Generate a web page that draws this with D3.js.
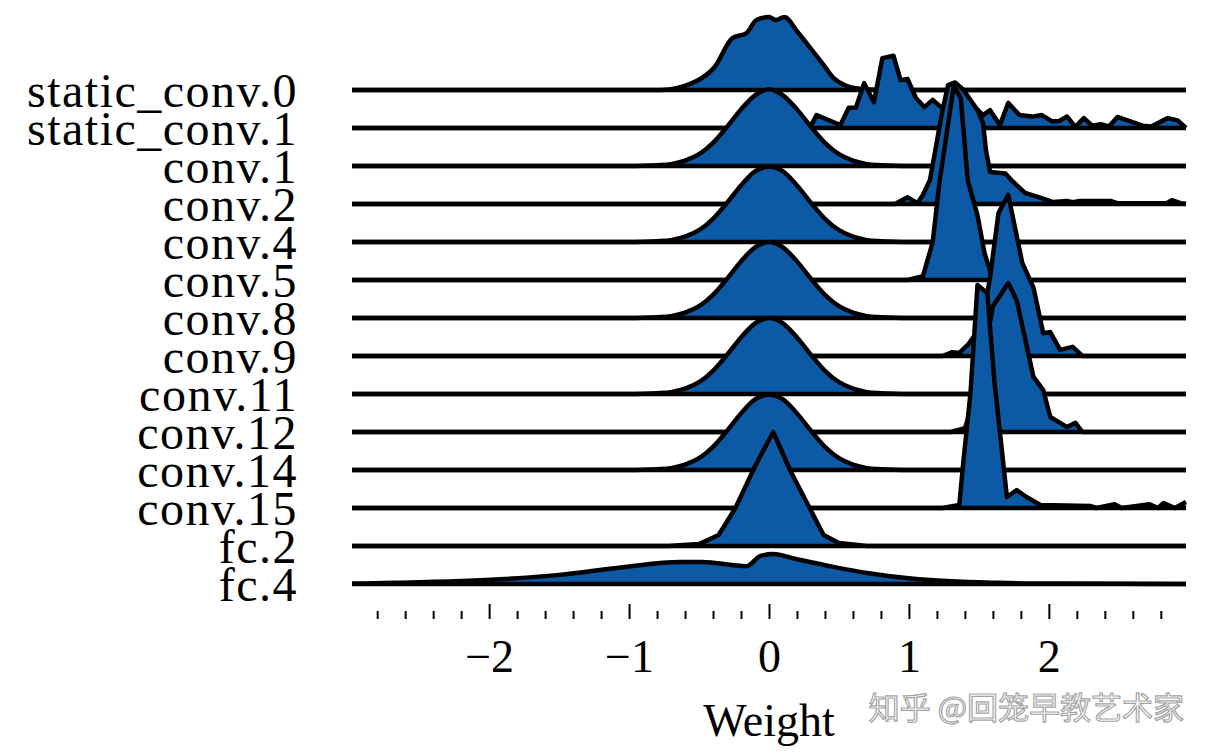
<!DOCTYPE html>
<html><head><meta charset="utf-8">
<script src="https://cdn.jsdelivr.net/npm/d3@7/dist/d3.min.js"></script>
<style>body{margin:0;background:#fff}</style></head>
<body><svg id="c" width="1212" height="754"></svg>
<script>
const categories = ["static_conv.0","static_conv.1","conv.1","conv.2","conv.4","conv.5","conv.8","conv.9","conv.11","conv.12","conv.14","conv.15","fc.2","fc.4"];

const staticConv0 = [[-2.98,0],[-0.77,0],[-0.55,.18],[-0.39,.6],[-0.26,1.37],[-0.16,1.5],[-0.09,1.84],[0,1.92],[0.05,1.84],[0.11,1.92],[0.2,1.55],[0.29,1.13],[0.38,.71],[0.46,.32],[0.54,.13],[0.65,.03],[0.8,0],[2.98,0]];
const staticConv1 = [[-2.98,0],[-0.3,0],[-0.2,.12],[-0.1,.35],[0,.5],[0.1,.35],[0.2,.12],[0.29,0],[0.34,.34],[0.51,.08],[0.57,.53],[0.62,.53],[0.68,1.18],[0.75,.68],[0.81,1.84],[0.89,1.9],[0.94,1.26],[0.99,1.29],[1.05,.79],[1.11,.55],[1.17,.74],[1.23,.55],[1.36,.5],[1.47,.55],[1.53,.34],[1.58,.47],[1.65,.08],[1.71,.66],[1.79,.34],[1.88,.3],[1.95,.34],[2.02,.18],[2.07,.18],[2.13,.3],[2.19,.03],[2.25,.26],[2.31,.06],[2.37,.1],[2.43,.04],[2.49,.29],[2.67,.06],[2.73,.04],[2.85,.26],[2.92,.2],[2.98,0]];
const conv1 = [[-2.98,0],[-1,0],[-0.9,.005],[-0.8,.02],[-0.7,.05],[-0.6,.14],[-0.5,.31],[-0.4,.61],[-0.3,1.03],[-0.2,1.49],[-0.1,1.86],[0,2.02],[0.1,1.86],[0.2,1.49],[0.3,1.03],[0.4,.61],[0.5,.31],[0.6,.14],[0.7,.05],[0.8,.02],[0.9,.005],[1,0],[2.98,0]];
const conv2 = [[-2.98,0],[-0.3,0],[-0.2,.12],[-0.1,.35],[0,.5],[0.1,.35],[0.2,.12],[0.3,0],[0.9,0],[0.99,.18],[1.06,.02],[1.10,.24],[1.15,.63],[1.24,2.47],[1.28,3.13],[1.33,3.2],[1.39,3.0],[1.49,2.47],[1.53,2.13],[1.55,1.42],[1.58,.84],[1.69,.8],[1.74,.6],[1.83,.29],[1.91,.2],[1.99,.1],[2.03,.05],[2.13,.08],[2.17,.05],[2.22,.08],[2.44,.08],[2.49,.02],[2.84,.02],[2.88,.1],[2.94,.02],[2.98,0]];
const conv4 = [[-2.98,0],[-1,0],[-0.9,.005],[-0.8,.02],[-0.7,.05],[-0.6,.14],[-0.5,.31],[-0.4,.61],[-0.3,1.03],[-0.2,1.49],[-0.1,1.86],[0,1.98],[0.1,1.86],[0.2,1.49],[0.3,1.03],[0.4,.61],[0.5,.31],[0.6,.14],[0.7,.05],[0.8,.02],[0.9,.005],[1,0],[2.98,0]];
const conv5 = [[-2.98,0],[-0.3,0],[-0.2,.12],[-0.1,.35],[0,.5],[0.1,.35],[0.2,.12],[0.3,0],[0.99,0],[1.10,.1],[1.17,1.0],[1.22,2.63],[1.32,5.1],[1.37,4.8],[1.42,2.63],[1.49,1.7],[1.54,.71],[1.59,.13],[1.64,0],[2.98,0]];
const conv8 = [[-2.98,0],[-1,0],[-0.9,.005],[-0.8,.02],[-0.7,.05],[-0.6,.14],[-0.5,.31],[-0.4,.61],[-0.3,1.03],[-0.2,1.49],[-0.1,1.86],[0,2.0],[0.1,1.86],[0.2,1.49],[0.3,1.03],[0.4,.61],[0.5,.31],[0.6,.14],[0.7,.05],[0.8,.02],[0.9,.005],[1,0],[2.98,0]];
const conv9 = [[-2.98,0],[-0.3,0],[-0.2,.12],[-0.1,.35],[0,.5],[0.1,.35],[0.2,.12],[0.3,0],[1.24,0],[1.31,.1],[1.36,.08],[1.42,.29],[1.52,.8],[1.58,2.08],[1.64,3.76],[1.71,4.24],[1.74,3.7],[1.81,2.45],[1.89,1.8],[1.96,.6],[2.01,.63],[2.08,.16],[2.17,.24],[2.24,0],[2.98,0]];
const conv11 = [[-2.98,0],[-1,0],[-0.9,.005],[-0.8,.02],[-0.7,.05],[-0.6,.14],[-0.5,.31],[-0.4,.61],[-0.3,1.03],[-0.2,1.49],[-0.1,1.86],[0,2.0],[0.1,1.86],[0.2,1.49],[0.3,1.03],[0.4,.61],[0.5,.31],[0.6,.14],[0.7,.05],[0.8,.02],[0.9,.005],[1,0],[2.98,0]];
const conv12 = [[-2.98,0],[-0.3,0],[-0.2,.12],[-0.1,.35],[0,.5],[0.1,.35],[0.2,.12],[0.3,0],[1.3,0],[1.4,.1],[1.48,1.0],[1.55,2.3],[1.6,3.3],[1.71,3.92],[1.77,3.47],[1.89,1.45],[1.96,1.1],[2.01,.4],[2.13,.13],[2.19,.24],[2.24,0],[2.98,0]];
const conv14 = [[-2.98,0],[-1,0],[-0.9,.005],[-0.8,.02],[-0.7,.05],[-0.6,.14],[-0.5,.31],[-0.4,.61],[-0.3,1.03],[-0.2,1.49],[-0.1,1.86],[0,1.98],[0.1,1.86],[0.2,1.49],[0.3,1.03],[0.4,.61],[0.5,.31],[0.6,.14],[0.7,.05],[0.8,.02],[0.9,.005],[1,0],[2.98,0]];
const conv15 = [[-2.98,0],[-0.2,0],[-0.1,.2],[0,.3],[0.1,.2],[0.2,0],[1.24,0],[1.36,.08],[1.39,1.26],[1.44,3.03],[1.49,5.87],[1.56,5.66],[1.61,3.37],[1.7,.29],[1.77,.47],[1.84,.29],[1.94,.08],[2.3,.05],[2.34,0],[2.47,.1],[2.52,0],[2.72,.1],[2.78,0],[2.82,.13],[2.9,0],[2.98,.16]];
const fc2 = [[-2.98,0],[-0.72,0],[-0.5,.05],[-0.36,.29],[-0.24,1.0],[-0.1,2.1],[0.03,3.0],[0.15,2.0],[0.29,1.0],[0.39,.29],[0.5,.08],[0.7,0],[2.98,0]];
const fc4 = [[-2.98,.01],[-2.67,.03],[-1.89,.13],[-1.5,.24],[-1.03,.45],[-0.64,.58],[-0.48,.58],[-0.16,.47],[-0.06,.74],[0.03,.79],[0.19,.66],[0.46,.45],[0.7,.29],[1.05,.13],[1.64,.03],[2.03,.01],[2.98,0]];

const series = [staticConv0,staticConv1,conv1,conv2,conv4,conv5,conv8,conv9,conv11,conv12,conv14,conv15,fc2,fc4];
const spiky = [false,true,false,true,false,true,false,true,false,true,false,true,true,false];
const majorTicks = [-2,-1,0,1,2];
const minorTicks = [-2.8,-2.6,-2.4,-2.2,-1.8,-1.6,-1.4,-1.2,-0.8,-0.6,-0.4,-0.2,0.2,0.4,0.6,0.8,1.2,1.4,1.6,1.8,2.2,2.4,2.6,2.8];

const svg = d3.select("#c");
const x = d3.scaleLinear().domain([-2.98,2.98]).range([352,1186]);
const rowY = d3.scalePoint().domain(categories).range([90,584]);
const h = d3.scaleLinear().domain([0,1]).range([0,38]);
const blue = "#0c5aa6";
const font = "'Liberation Serif','Times New Roman',serif";

categories.forEach((c,i)=>{
  const y0 = rowY(c);
  const curve = spiky[i] ? d3.curveLinear : d3.curveMonotoneX;
  const g = svg.append("g");
  const area = d3.area().x(d=>x(d[0])).y0(y0).y1(d=>y0-h(d[1])).curve(curve);
  const line = d3.line().x(d=>x(d[0])).y(d=>y0-h(d[1])).curve(curve);
  g.append("path").attr("d",area(series[i])).attr("fill",blue);
  g.append("line").attr("x1",x(-2.98)).attr("x2",x(2.98)).attr("y1",y0).attr("y2",y0)
    .attr("stroke","#000").attr("stroke-width",4.5);
  g.append("path").attr("d",line(series[i])).attr("fill","none").attr("stroke","#000")
    .attr("stroke-width",4.5).attr("stroke-linejoin","round");
  svg.append("text").attr("x",298).attr("y",y0).attr("dy","0.36em").attr("text-anchor","end")
    .attr("font-family",font).attr("font-size",48).attr("letter-spacing",1.5).text(c);
});

const minorAxis = d3.axisBottom(x).tickValues(minorTicks).tickSize(8).tickFormat("");
const gm = svg.append("g").attr("transform","translate(0,611)").call(minorAxis);
const majorAxis = d3.axisBottom(x).tickValues(majorTicks).tickSize(15).tickPadding(20)
  .tickFormat(d=> d<0 ? "\u2212"+Math.abs(d) : String(d));
const gM = svg.append("g").attr("transform","translate(0,604)").call(majorAxis);
[gm,gM].forEach(g=>{
  g.select(".domain").remove();
  g.selectAll(".tick line").attr("stroke","#000").attr("stroke-width",2);
});
gM.selectAll(".tick text").attr("font-family",font).attr("font-size",46).attr("fill","#000");

svg.append("text").attr("x",769).attr("y",736).attr("text-anchor","middle")
  .attr("font-family",font).attr("font-size",46).text("Weight");

svg.append("text").attr("x",1184).attr("y",719).attr("text-anchor","end")
  .attr("font-family","'Noto Sans CJK SC',sans-serif").attr("font-size",31)
  .attr("fill","#fff").attr("fill-opacity",0.9).attr("stroke","#777").attr("stroke-width",1.2)
  .attr("stroke-opacity",0.7).text("知乎 @回笼早教艺术家");
</script></body></html>
